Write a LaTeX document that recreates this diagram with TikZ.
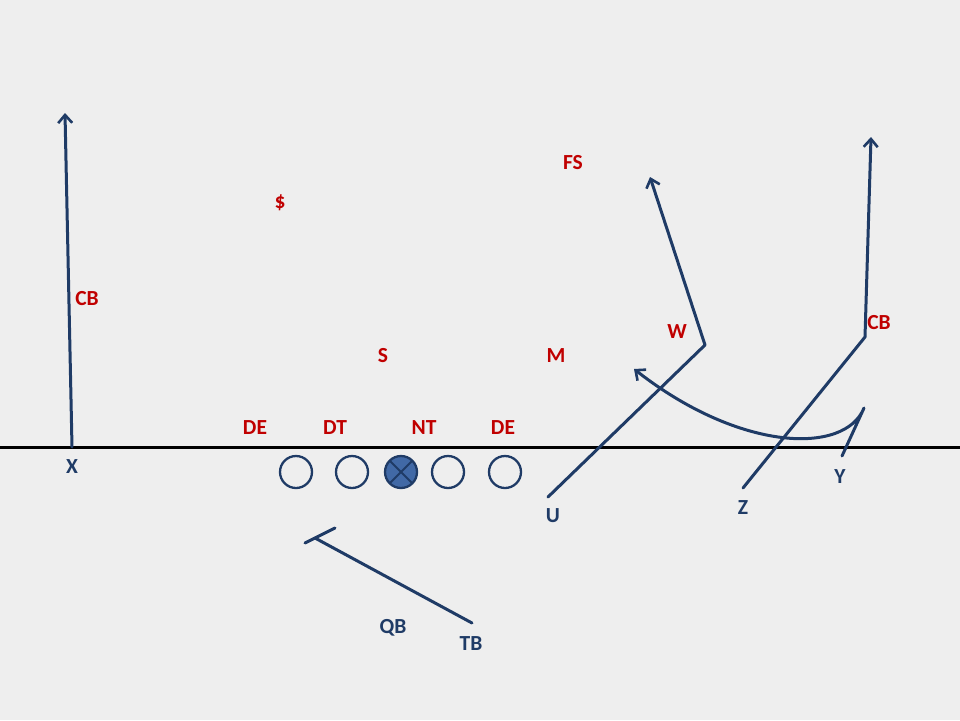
\documentclass[tikz,border=0pt]{standalone}
\usepackage{fontspec}
\setmainfont{Carlito}
\usetikzlibrary{arrows.meta}
\definecolor{bg}{HTML}{EEEEEE}
\definecolor{navy}{HTML}{1F3B66}
\definecolor{fillblue}{HTML}{4169A6}
\definecolor{redtxt}{HTML}{C00000}
\tikzset{
  def/.style={text=redtxt,font=\fontsize{21.5}{21.5}\selectfont\bfseries,inner sep=1pt},
  off/.style={text=navy,font=\fontsize{21.5}{21.5}\selectfont\bfseries,inner sep=1pt},
  lineman/.style={circle,draw=navy,line width=2.3pt,minimum size=32pt,inner sep=0pt},
  center/.style={lineman,fill=fillblue,path picture={
      \draw[navy,line width=2pt] (path picture bounding box.south west) -- (path picture bounding box.north east)
        (path picture bounding box.north west) -- (path picture bounding box.south east);}},
  route/.style={navy,line width=3pt,line cap=round,line join=round},
  routearrow/.style={route,-{Straight Barb[length=8pt,width=14pt,line width=2.6pt]}},
}
\begin{document}
\begin{tikzpicture}[x=1pt,y=-1pt]
\fill[bg] (0,0) rectangle (960,720);
\useasboundingbox (0,0) rectangle (960,720);
% line of scrimmage
\coordinate (losL) at (0,447);
\coordinate (losR) at (960,447);
\draw[black,line width=3pt] (losL) -- (losR);
% offensive line
\node[lineman] (o1) at (296,472) {};
\node[lineman] (o2) at (352,472) {};
\node[center]  (o3) at (401,472) {};
\node[lineman] (o4) at (448,472) {};
\node[lineman] (o5) at (505,472) {};
% defense labels
\node[def] (de1) at (255,428) {DE};
\node[def] (dt)  at (335,428) {DT};
\node[def] (nt)  at (424,428) {NT};
\node[def] (de2) at (503,428) {DE};
\node[def] (s)   at (383,356) {S};
\node[def] (m)   at (556,356) {M};
\node[def] (dol) at (280,203) {\$};
\node[def] (fs)  at (573,163) {FS};
\node[def] (w)   at (677,332) {W};
\node[def] (cbl) at (87,299) {CB};
\node[def] (cbr) at (879,323) {CB};
% offense labels
\node[off] (x)  at (72,467) {X};
\node[off] (u)  at (553,516) {U};
\node[off] (z)  at (743,508) {Z};
\node[off] (y)  at (840,477) {Y};
\node[off] (qb) at (393,628) {QB};
\node[off] (tb) at (471,644) {TB};
% route coordinates
\coordinate (xs) at (72,447);
\coordinate (xe) at (65,113);
\coordinate (us) at (548,497);
\coordinate (uc) at (705,345);
\coordinate (ue) at (650,177);
\coordinate (zs) at (743,488);
\coordinate (zc) at (865,337);
\coordinate (ze) at (871,137);
\coordinate (ys) at (842,456);
\coordinate (yc) at (864,408);
\coordinate (ye) at (634,369);
\coordinate (qs) at (472,623);
\coordinate (qe) at (315,538);
\coordinate (ta) at (305,543);
\coordinate (tb2) at (335,528);
% routes
\draw[routearrow] (xs) -- (xe);
\draw[routearrow] (us) -- (uc) -- (ue);
\draw[routearrow] (zs) -- (zc) -- (ze);
\draw[routearrow] (ys) -- (yc) .. controls (845,455) and (740,452) .. (ye);
\draw[route] (qs) -- (qe);
\draw[route] (ta) -- (tb2);
\end{tikzpicture}
\end{document}
